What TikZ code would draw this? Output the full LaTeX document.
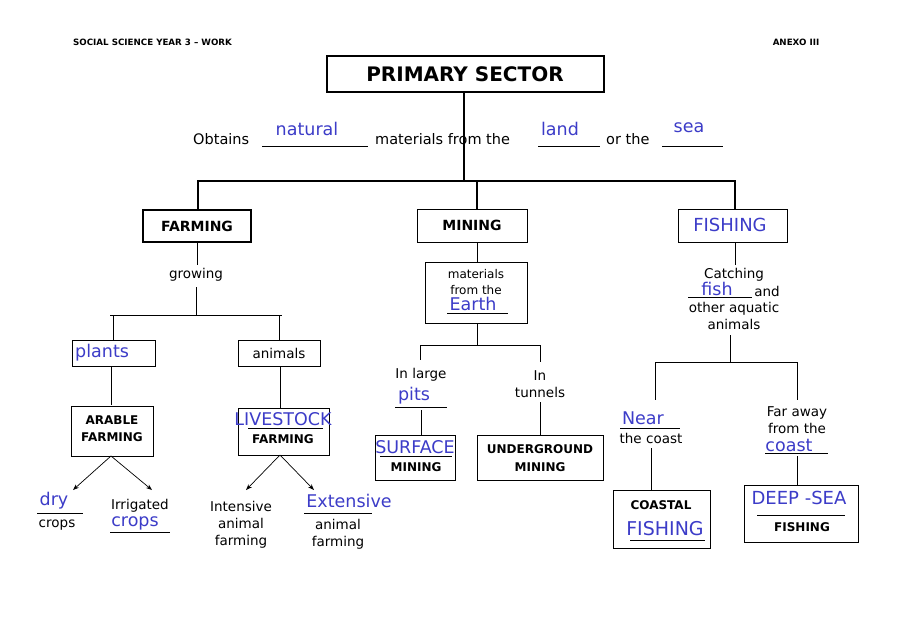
\documentclass[tikz,border=0pt]{standalone}
\usepackage{fontspec}
\setmainfont{DejaVu Sans}
\usetikzlibrary{arrows.meta}
\definecolor{hb}{RGB}{60,60,200}
\begin{document}
\begin{tikzpicture}[x=1pt,y=-1pt,
 bx/.style={draw,line width=0.9pt,inner sep=0},
 t/.style={font=\fontsize{13.5}{17}\selectfont,align=center,inner sep=0},
 bt/.style={font=\fontsize{12}{15}\selectfont\bfseries,align=center,inner sep=0},
 bl/.style={font=\fontsize{17.5}{19}\selectfont,text=hb,inner sep=0},
 ln/.style={line width=0.7pt},
 ul/.style={line width=0.6pt},
 ar/.style={line width=0.7pt,-{Stealth[length=6pt]}}]
\path[use as bounding box] (0,0) rectangle (902,637);
\fill[white] (0,0) rectangle (902,637);
\node[font=\fontsize{8.7}{10}\selectfont\bfseries,anchor=west,inner sep=0] (hd) at (73,42) {SOCIAL SCIENCE YEAR 3 – WORK};
\node[font=\fontsize{8.7}{10}\selectfont\bfseries,inner sep=0] (ax) at (796,42) {ANEXO III};
% title
\draw[line width=1.5pt] (327,56) rectangle (604,92);
\node[font=\fontsize{20}{22}\selectfont\bfseries,inner sep=0] (ps) at (465,74) {PRIMARY SECTOR};
\coordinate (pb) at (464,92);
\node[t,anchor=west,font=\fontsize{14.5}{17}\selectfont] (ob) at (193,139) {Obtains};
\draw[ul] (262,146) -- (368,146); \node[bl] (nat) at (307,129) {natural};
\node[t,anchor=west,font=\fontsize{14.5}{17}\selectfont] (mf) at (375,139) {materials from the};
\draw[ul] (538,146) -- (600,146); \node[bl] (land) at (560,129) {land};
\node[t,anchor=west,font=\fontsize{14.5}{17}\selectfont] (ot) at (606,139) {or the};
\draw[ul] (662,146) -- (723,146); \node[bl] (sea) at (689,128) {sea};
\draw[line width=2.2pt] (pb) -- (464,181);
\draw[line width=2.2pt] (198,181) -- (735,181);
\draw[line width=2.2pt] (198,180) -- (198,210) (477,180) -- (477,209) (735,180) -- (735,209);
% level boxes
\draw[line width=1.5pt] (143,210) rectangle (251,242); \node[bt,font=\fontsize{14}{16}\selectfont\bfseries] (farm) at (197,226) {FARMING};
\draw[bx] (417,209) rectangle (527,242); \node[bt,font=\fontsize{14}{16}\selectfont\bfseries] (min) at (472,225) {MINING};
\draw[bx] (678,209) rectangle (787,242); \node[bl,font=\fontsize{18}{20}\selectfont] (fish) at (730,225) {FISHING};
% farming
\draw[ln] (197,242) -- (197,265);
\node[t] (gr) at (196,275) {growing};
\draw[ln] (196,287) -- (196,315) (110,315) -- (282,315) (113,315) -- (113,340) (279,315) -- (279,340);
\draw[bx] (72,340) rectangle (155,366); \node[bl,anchor=west] (pl) at (75,353) {plants};
\draw[bx] (238,340) rectangle (320,366); \node[t] (an) at (279,353) {animals};
\draw[ln] (111,366) -- (111,405) (280,366) -- (280,408);
\draw[bx] (71,406) rectangle (153,456); \node[bt,font=\fontsize{12}{17}\selectfont\bfseries] (ara) at (112,429) {ARABLE\\FARMING};
\draw[bx] (238,408) rectangle (329,455);
\node[bl] (liv) at (283,419) {LIVESTOCK};
\draw[ul] (248,428) -- (323,428);
\node[bt] (lf) at (283,439) {FARMING};
\coordinate (a1) at (111,456); \coordinate (a2) at (280,455);
\draw[ar] (a1) -- (73,490); \draw[ar] (a1) -- (152,490);
\draw[ar] (a2) -- (246,490); \draw[ar] (a2) -- (314,490);
\node[bl] (dry) at (54,501) {dry}; \draw[ul] (37,513) -- (83,513);
\node[t] (cr1) at (57,525) {crops};
\node[t] (irr) at (140,506) {Irrigated};
\node[bl] (cr2) at (135,523) {crops}; \draw[ul] (110,532) -- (170,532);
\node[t,align=center] (int) at (241,525) {Intensive\\animal\\farming};
\node[bl] (ext) at (349,501) {Extensive}; \draw[ul] (304,513) -- (372,513);
\node[t] (ext2) at (338,534) {animal\\farming};
% mining
\draw[ln] (477,242) -- (477,262);
\draw[bx] (425,262) rectangle (527,323);
\node[t,font=\fontsize{12}{16}\selectfont] (mat) at (476,282) {materials\\from the};
\node[bl] (ea) at (473,304) {Earth}; \draw[ul] (447,313) -- (508,313);
\draw[ln] (477,323) -- (477,345) (420,345) -- (540,345) (420,345) -- (420,360) (540,345) -- (540,362);
\node[t] (il) at (421,375) {In large};
\node[bl] (pit) at (414,396) {pits}; \draw[ul] (395,407) -- (447,407);
\node[t] (it) at (540,384) {In\\tunnels};
\draw[ln] (421,410) -- (421,435) (540,402) -- (540,435);
\draw[bx] (375,435) rectangle (455,480);
\node[bl] (sur) at (415,447) {SURFACE}; \draw[ul] (380,456) -- (452,456);
\node[bt] (sm) at (416,467) {MINING};
\draw[bx] (477,435) rectangle (603,480); \node[bt,font=\fontsize{12}{18}\selectfont\bfseries] (ug) at (540,458) {UNDERGROUND\\MINING};
% fishing
\draw[ln] (735,242) -- (735,265);
\node[t] (ca) at (734,275) {Catching};
\node[bl] (fi) at (717,289) {fish}; \draw[ul] (688,297) -- (752,297);
\node[t] (and) at (767,291) {and};
\node[t] (oa) at (734,316) {other aquatic\\animals};
\draw[ln] (730,335) -- (730,362) (655,362) -- (797,362) (655,362) -- (655,400) (797,362) -- (797,400);
\node[bl] (ne) at (643,418) {Near}; \draw[ul] (620,428) -- (680,428);
\node[t] (tc) at (651,438) {the coast};
\draw[ln] (651,448) -- (651,490);
\draw[bx] (613,490) rectangle (710,548);
\node[bt] (coa) at (661,505) {COASTAL};
\node[bl,font=\fontsize{19}{21}\selectfont] (cf) at (665,529) {FISHING}; \draw[ul] (630,540) -- (705,540);
\node[t] (fa) at (797,420) {Far away\\from the};
\node[bl] (co) at (789,445) {coast}; \draw[ul] (765,453) -- (828,453);
\draw[ln] (797,456) -- (797,485);
\draw[bx] (744,485) rectangle (858,542);
\node[bl,font=\fontsize{18}{20}\selectfont] (ds) at (799,498) {DEEP -SEA}; \draw[ul] (757,515) -- (845,515);
\node[bt] (dsf) at (802,527) {FISHING};
\end{tikzpicture}
\end{document}
